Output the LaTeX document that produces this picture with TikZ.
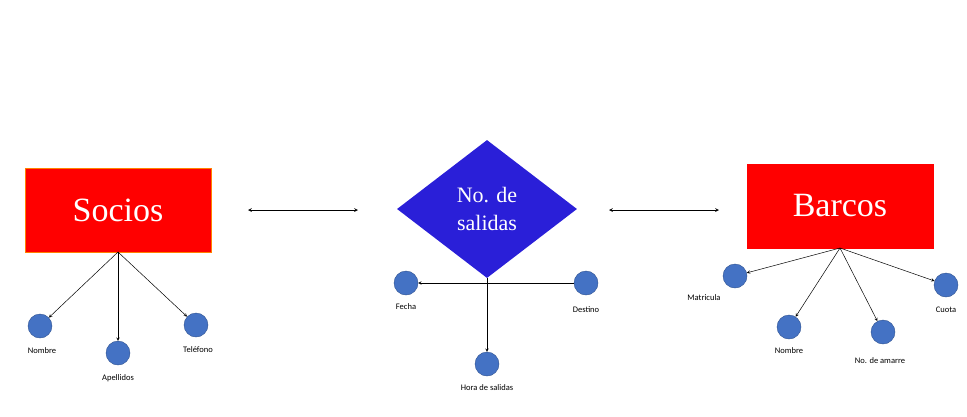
\documentclass[tikz,border=0pt]{standalone}
\usepackage{fontspec}
\setmainfont{Liberation Serif}
\newfontfamily\lab{Carlito}
\usetikzlibrary{shapes.geometric}
\definecolor{attr}{HTML}{4472C4}
\definecolor{attrb}{HTML}{2F528F}
\definecolor{dia}{HTML}{2A1FD8}
\tikzset{x=1pt,y=-1pt,
 ent/.style={draw=orange,fill=red,minimum width=186pt,minimum height=84pt,text=white,font=\fontsize{34}{36}\selectfont},
 attrnode/.style={circle,fill=attr,draw=attrb,minimum size=24pt,inner sep=0pt},
 lb/.style={font=\lab\fontsize{8.5}{10}\selectfont},
 ar/.style={-stealth,black,line width=0.5pt},
 dar/.style={stealth-stealth,black,line width=0.7pt}}
\begin{document}
\begin{tikzpicture}
\useasboundingbox (0,0) rectangle (967,416);
\node[ent] (soc) at (118,210) {Socios};
\node[ent,draw=red] (bar) at (840,206) {Barcos};
\node[diamond,fill=dia,minimum width=180pt,minimum height=138pt,inner sep=0pt,aspect=1.3,text=white,align=center,font=\fontsize{22}{28}\selectfont] (sal) at (487,209) {No. de\\salidas};
\coordinate (a1) at (248,210); \coordinate (a2) at (358,210);
\coordinate (b1) at (609,210); \coordinate (b2) at (719,210);
\draw[dar] (a1) -- (a2);
\draw[dar] (b1) -- (b2);
% Socios attributes
\node[attrnode] (s1) at (40,326) {}; \node[lb] at (42,351) {Nombre};
\node[attrnode] (s2) at (118,353) {}; \node[lb] at (118,378) {Apellidos};
\node[attrnode] (s3) at (196,325) {}; \node[lb] at (198,350) {Teléfono};
\coordinate (sb) at (118,252);
\draw[ar] (sb) -- (s1); \draw[ar] (sb) -- (s2); \draw[ar] (sb) -- (s3);
% salidas
\node[attrnode] (d1) at (406,283) {}; \node[lb] at (406,307) {Fecha};
\node[attrnode] (d2) at (586,283) {}; \node[lb] at (586,310) {Destino};
\node[attrnode] (d3) at (487,364) {}; \node[lb] at (487,388) {Hora de salidas};
\draw[ar] (d2) -- (d1); \draw[ar] (sal.south) -- (d3);
% Barcos
\coordinate (bb) at (840,248);
\node[attrnode] (c1) at (735,276) {}; \node[lb] at (704,298) {Matricula};
\node[attrnode] (c2) at (789,327) {}; \node[lb] at (789,351) {Nombre};
\node[attrnode] (c3) at (883,332) {}; \node[lb] at (880,361) {No. de amarre};
\node[attrnode] (c4) at (946,285) {}; \node[lb] at (946,310) {Cuota};
\foreach \c in {c1,c2,c3,c4} \draw[ar] (bb) -- (\c);
\end{tikzpicture}
\end{document}
